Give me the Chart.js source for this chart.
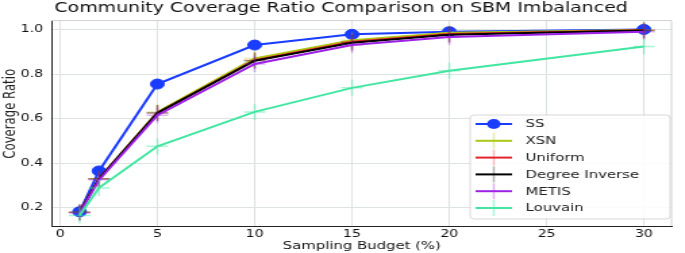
<!DOCTYPE html>
<html>
<head>
<meta charset="utf-8">
<script src="https://cdn.jsdelivr.net/npm/chart.js@4/dist/chart.umd.min.js"></script>
<style>
html,body{margin:0;padding:0;background:#fff;overflow:hidden;}
#wrap{width:507px;height:253px;transform:scaleX(1.351);transform-origin:0 0;}
</style>
</head>
<body>
<div id="wrap"><canvas id="c" width="507" height="253"></canvas></div>
<script>
const budgets = [1, 2, 5, 10, 15, 20, 30];
const ssValues      = [0.182, 0.365, 0.755, 0.930, 0.978, 0.990, 1.000];
const xsnValues     = [0.180, 0.330, 0.630, 0.870, 0.952, 0.985, 0.998];
const uniformValues = [0.180, 0.330, 0.625, 0.862, 0.945, 0.980, 0.996];
const degInvValues  = [0.180, 0.330, 0.625, 0.860, 0.940, 0.976, 0.995];
const metisValues   = [0.176, 0.325, 0.615, 0.845, 0.930, 0.966, 0.990];
const louvainValues = [0.165, 0.289, 0.476, 0.630, 0.738, 0.815, 0.924];
const seriesNames = ['SS', 'XSN', 'Uniform', 'Degree Inverse', 'METIS', 'Louvain'];
const xTicks = [0, 5, 10, 15, 20, 25, 30];
const yTicks = [0.2, 0.4, 0.6, 0.8, 1.0];

const colors = ['#1a3cff', '#aac814', '#e4222a', '#000000', '#9e22e6', '#42e6a2'];
const crossColors = ['#1a3cff', 'rgba(170,200,20,0.35)', 'rgba(228,34,42,0.3)', 'rgba(0,0,0,0.3)', 'rgba(158,34,230,0.35)', 'rgba(66,230,162,0.45)'];
const allValues = [ssValues, xsnValues, uniformValues, degInvValues, metisValues, louvainValues];

const datasets = allValues.map((vals, i) => ({
  label: seriesNames[i],
  data: budgets.map((b, j) => ({x: b, y: vals[j]})),
  borderColor: colors[i],
  backgroundColor: i === 0 ? colors[i] : crossColors[i],
  pointBorderColor: i === 0 ? colors[i] : crossColors[i],
  pointStyle: i === 0 ? 'circle' : 'cross',
  pointRadius: i === 0 ? 5 : 8,
  pointBorderWidth: i === 0 ? 1 : 1.5,
  borderWidth: 2,
  tension: 0,
  fill: false,
  order: 6 - i
}));

const FONT = 'DejaVu Sans';
const YFONT = '"DejaVu Sans Condensed", "Liberation Sans Narrow", "DejaVu Sans"';

const frame = {
  id: 'frame',
  afterDraw(chart) {
    const ctx = chart.ctx, a = chart.chartArea;
    ctx.save();
    ctx.strokeStyle = '#d0d0d0';
    ctx.lineWidth = 1;
    ctx.beginPath();
    ctx.moveTo(a.left, a.top + 0.5);
    ctx.lineTo(a.right - 0.5, a.top + 0.5);
    ctx.lineTo(a.right - 0.5, a.bottom);
    ctx.stroke();
    // legend
    const bw = 148, bh = 104;
    const bx = a.right - 1.5 - bw, by = a.bottom - 7 - bh;
    ctx.fillStyle = 'rgba(255,255,255,0.85)';
    ctx.strokeStyle = '#d8d8d8';
    ctx.beginPath();
    ctx.roundRect(bx, by, bw, bh, 3);
    ctx.fill();
    ctx.stroke();
    ctx.font = '11px "' + FONT + '"';
    ctx.textBaseline = 'middle';
    chart.data.datasets.forEach((ds, i) => {
      const cy = by + 9 + i * 16.8;
      const x0 = bx + 4, x1 = bx + 31;
      ctx.strokeStyle = ds.borderColor;
      ctx.lineWidth = 2;
      ctx.beginPath();
      ctx.moveTo(x0, cy);
      ctx.lineTo(x1, cy);
      ctx.stroke();
      const mx = (x0 + x1) / 2;
      if (i === 0) {
        ctx.fillStyle = ds.borderColor;
        ctx.beginPath();
        ctx.arc(mx, cy, 5, 0, Math.PI * 2);
        ctx.fill();
      } else {
        ctx.strokeStyle = ds.pointBorderColor;
        ctx.lineWidth = 1.5;
        ctx.beginPath();
        ctx.moveTo(mx, cy - 8);
        ctx.lineTo(mx, cy + 8);
        ctx.stroke();
      }
      ctx.fillStyle = '#222';
      ctx.fillText(ds.label, bx + 41, cy + 0.5);
    });
    ctx.restore();
  }
};

new Chart(document.getElementById('c'), {
  type: 'line',
  data: { datasets },
  options: {
    responsive: false,
    animation: false,
    layout: { padding: { left: 0, right: 2, top: 0, bottom: 0 } },
    plugins: {
      legend: { display: false },
      tooltip: { enabled: false },
      title: {
        display: true,
        text: 'Community Coverage Ratio Comparison on SBM Imbalanced',
        color: '#111',
        font: { family: FONT, size: 14, weight: 'normal', lineHeight: 1.15 },
        padding: { top: 0, bottom: 4 }
      }
    },
    scales: {
      x: {
        type: 'linear',
        min: -0.45, max: 31.45,
        afterFit(s) { s.height = 27; },
        afterBuildTicks(s) { s.ticks = xTicks.map(v => ({value: v})); },
        ticks: { color: '#111', padding: 2, font: { family: FONT, size: 10.5 }, maxRotation: 0 },
        grid: { color: '#dde2e2', drawTicks: false, tickLength: 0 },
        border: { color: '#222', width: 1 },
        title: { display: true, text: 'Sampling Budget (%)', color: '#111', font: { family: FONT, size: 11, lineHeight: 1.2 }, padding: { top: 0, bottom: 0 } }
      },
      y: {
        min: 0.118, max: 1.042,
        afterFit(s) { s.width = 38; },
        afterBuildTicks(s) { s.ticks = yTicks.map(v => ({value: v})); },
        ticks: { color: '#111', padding: 6, font: { family: FONT, size: 10.5 }, callback: v => v.toFixed(1) },
        grid: { color: '#dde2e2', drawTicks: false, tickLength: 0 },
        border: { color: '#222', width: 1 },
        title: { display: true, text: '     Coverage Ratio', color: '#222', font: { family: YFONT, size: 13, lineHeight: 1.1 }, padding: { top: 0, bottom: 0 } }
      }
    }
  },
  plugins: [frame]
});
</script>
</body>
</html>
